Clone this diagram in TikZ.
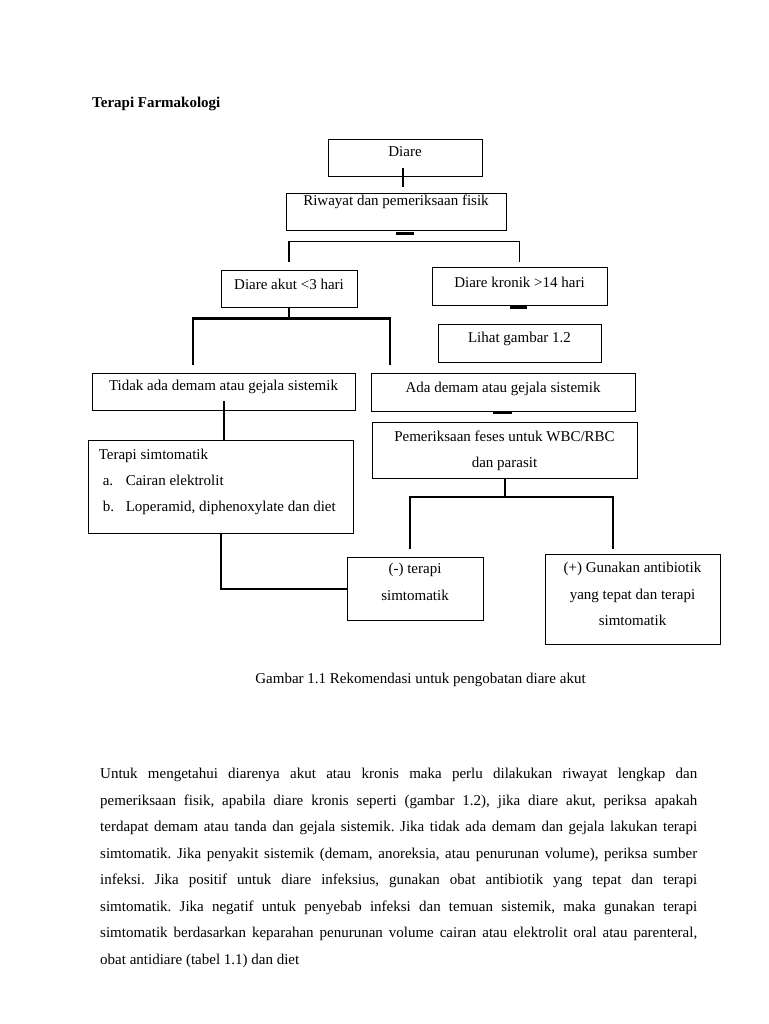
\documentclass[tikz,border=0pt]{standalone}
\usepackage{fontspec}
\setmainfont{Liberation Serif}
\usetikzlibrary{positioning,calc}
\frenchspacing

\begin{document}
\begin{tikzpicture}[x=1pt,y=-1pt, every node/.style={font=\fontsize{15}{18}\selectfont},
		kotak/.style={draw,rectangle,line width=0.8pt,inner sep=0pt},
		teks/.style={anchor=base,inner sep=0pt},
		garis/.style={line width=2pt}]
	\useasboundingbox[fill=white] (0,0) rectangle (768,1024);
	
	% Judul
	\node[anchor=base west,inner sep=0pt,font=\fontsize{15}{18}\selectfont\bfseries] (judul) at (92,108) {Terapi Farmakologi};
	
	% Diare
	\node[kotak,minimum width=154,minimum height=37] (diare) at (405,157.5) {};
	\node[teks] (diareT) at ([yshift=-18pt]diare.north) {Diare};
	
	% Riwayat
	\node[kotak,minimum width=220,minimum height=37] (riwayat) at (396,211.5) {};
	\node[teks] (riwayatT) at ([yshift=-13pt]riwayat.north) {Riwayat dan pemeriksaan fisik};
	
	% Akut dan kronik
	\node[kotak,minimum width=136,minimum height=37] (akut) at (289,288.5) {};
	\node[teks] (akutT) at ([yshift=-19.5pt]akut.north) {Diare akut <3 hari};
	\node[kotak,minimum width=175,minimum height=38] (kronik) at (519.5,286) {};
	\node[teks] (kronikT) at ([yshift=-21pt]kronik.north) {Diare kronik >14 hari};
	\node[kotak,minimum width=163,minimum height=38] (lihat) at (519.5,343) {};
	\node[teks] (lihatT) at ([yshift=-19pt]lihat.north) {Lihat gambar 1.2};
	
	% Demam
	\node[kotak,minimum width=263,minimum height=37] (tidak) at (223.5,391.5) {};
	\node[teks] (tidakT) at ([yshift=-18pt]tidak.north) {Tidak ada demam atau gejala sistemik};
	\node[kotak,minimum width=264,minimum height=38] (ada) at (503,392) {};
	\node[teks] (adaT) at ([yshift=-20pt]ada.north) {Ada demam atau gejala sistemik};
	
	% Pemeriksaan feses
	\node[kotak,minimum width=265,minimum height=56] (periksa) at (504.5,450) {};
	\node[teks] (periksaT1) at ([yshift=-20pt]periksa.north) {Pemeriksaan feses untuk WBC/RBC};
	\node[teks] (periksaT2) at ([yshift=-46pt]periksa.north) {dan parasit};
	
	% Terapi simtomatik
	\node[kotak,minimum width=265,minimum height=93] (terapi) at (220.5,486.5) {};
	\node[teks,anchor=base west] (terapiT) at ([xshift=11pt,yshift=-20pt]terapi.north west) {Terapi simtomatik};
	\node[teks,anchor=base west] (poinA) at ([xshift=15pt,yshift=-46pt]terapi.north west) {a.};
	\node[teks,anchor=base west] (isiA) at ([xshift=38pt,yshift=-46pt]terapi.north west) {Cairan elektrolit};
	\node[teks,anchor=base west] (poinB) at ([xshift=15pt,yshift=-72pt]terapi.north west) {b.};
	\node[teks,anchor=base west] (isiB) at ([xshift=38pt,yshift=-72pt]terapi.north west) {Loperamid, diphenoxylate dan diet};
	
	% Hasil
	\node[kotak,minimum width=136,minimum height=63] (negatif) at (415,588.5) {};
	\node[teks] (negatifT1) at ([yshift=-17pt]negatif.north) {(-) terapi};
	\node[teks] (negatifT2) at ([yshift=-44pt]negatif.north) {simtomatik};
	\node[kotak,minimum width=175,minimum height=90] (positif) at (632.5,599) {};
	\node[teks] (positifT1) at ([yshift=-19pt]positif.north) {(+) Gunakan antibiotik};
	\node[teks] (positifT2) at ([yshift=-46pt]positif.north) {yang tepat dan terapi};
	\node[teks] (positifT3) at ([yshift=-72pt]positif.north) {simtomatik};
	
	% Garis penghubung
	\draw[garis] ([xshift=-2pt,yshift=8pt]diare.south) -- ([xshift=7pt,yshift=6pt]riwayat.north);
	\draw[line width=2.5pt] ([yshift=-3pt]riwayat.south) -- ++(18,0);
	\draw[line width=1.5pt] ([yshift=8pt]akut.north) |- ([yshift=25pt]kronik.north) -- ([yshift=5pt]kronik.north);
	\draw[line width=2.5pt] ([xshift=-9.5pt,yshift=-2pt]kronik.south) -- ++(17,0);
	
	\coordinate (kiriA) at ([xshift=-30.5pt,yshift=8pt]tidak.north);
	\coordinate (kananA) at ([xshift=-113pt,yshift=8pt]ada.north);
	\draw[line width=2.5pt] (akut.south) -- ([yshift=-11pt]akut.south);
	\draw[line width=2.5pt] (kiriA) |- ([yshift=-11pt]akut.south) -| (kananA);
	\draw[line width=2.5pt] ([xshift=-10pt,yshift=-1pt]ada.south) -- ++(19,0);
	
	\draw[garis] ([yshift=9pt]tidak.south) -- (tidak.south |- terapi.north);
	\draw[garis] (terapi.south) |- (negatif.west);
	
	\coordinate (kiriB) at ([xshift=-5pt,yshift=8pt]negatif.north);
	\coordinate (kananB) at ([xshift=-19.5pt,yshift=5pt]positif.north);
	\draw[garis] (periksa.south) -- ([yshift=-19pt]periksa.south);
	\draw[garis] (kiriB) |- ([yshift=-19pt]periksa.south) -| (kananB);
	
	% Keterangan gambar
	\node[teks] (caption) at (420.5,683) {Gambar 1.1 Rekomendasi untuk pengobatan diare akut};
	
	% Paragraf
	\node[anchor=north west,inner sep=0pt,text width=597pt,align=justify,font=\fontsize{15}{26.5}\selectfont] (paragraf) at (100,768) {\hyphenpenalty=10000\frenchspacing
		Untuk mengetahui diarenya akut atau kronis maka perlu dilakukan riwayat lengkap dan\linebreak
		pemeriksaan fisik, apabila diare kronis seperti (gambar 1.2), jika diare akut, periksa apakah\linebreak
		terdapat demam atau tanda dan gejala sistemik. Jika tidak ada demam dan gejala lakukan terapi\linebreak
		simtomatik. Jika penyakit sistemik (demam, anoreksia, atau penurunan volume), periksa sumber\linebreak
		infeksi. Jika positif untuk diare infeksius, gunakan obat antibiotik yang tepat dan terapi\linebreak
		simtomatik. Jika negatif untuk penyebab infeksi dan temuan sistemik, maka gunakan terapi\linebreak
		simtomatik berdasarkan keparahan penurunan volume cairan atau elektrolit oral atau parenteral,\linebreak
		obat antidiare (tabel 1.1) dan diet};
\end{tikzpicture}
\end{document}
